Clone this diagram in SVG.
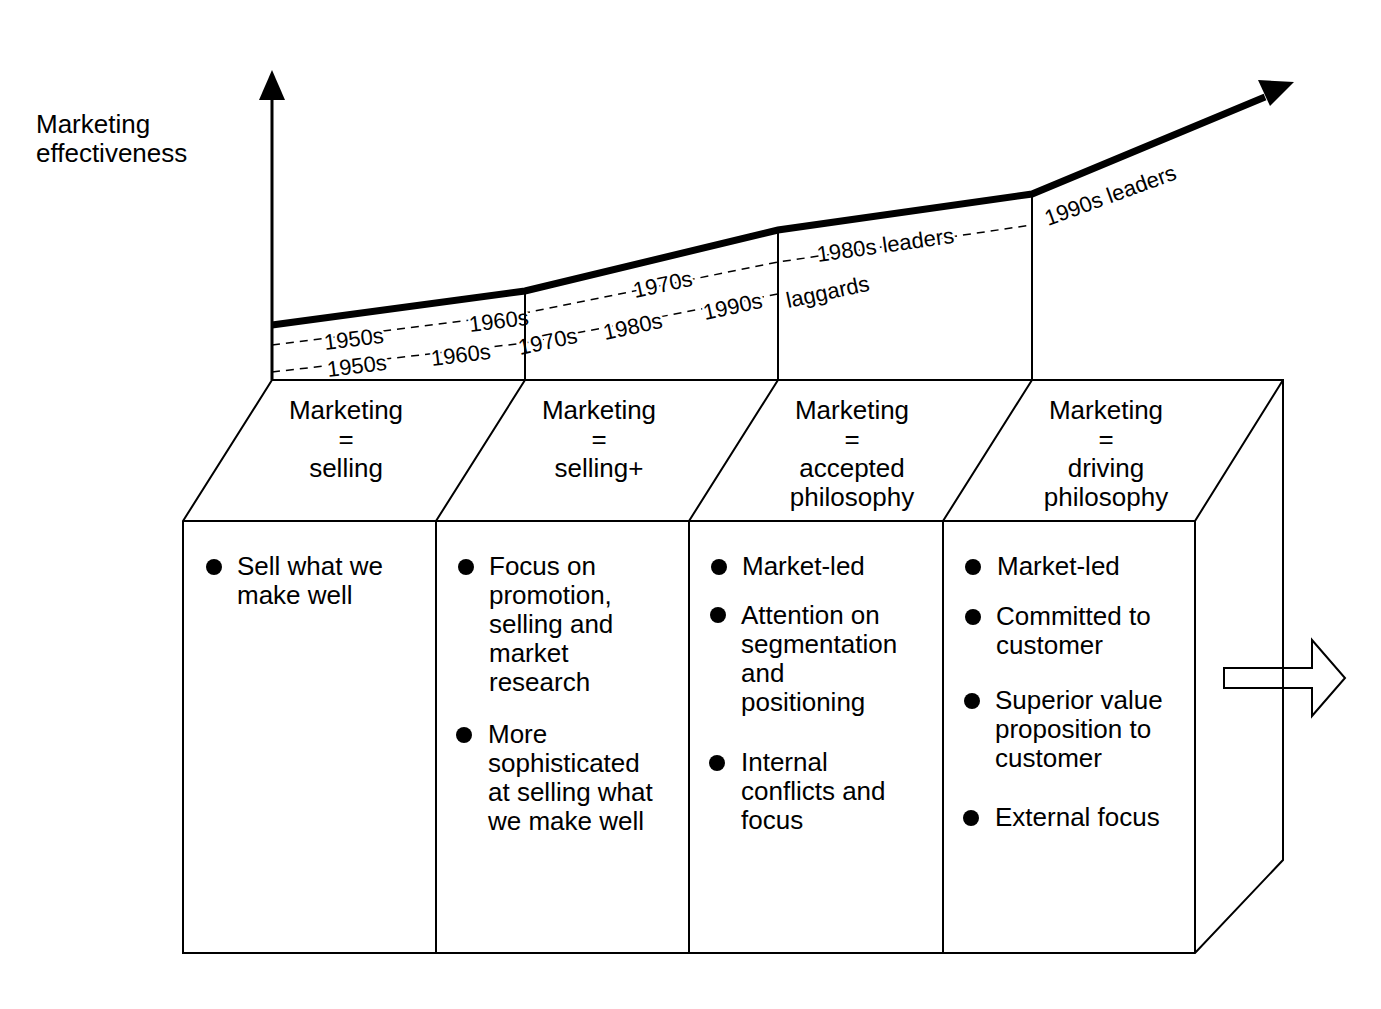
<svg xmlns="http://www.w3.org/2000/svg" width="1381" height="1009" viewBox="0 0 1381 1009">
<style>
text{font-family:"Liberation Sans",Arial,sans-serif;fill:#000}
.t{font-size:26px;text-anchor:middle}
.b{font-size:26px}
.s{font-size:22px;stroke:#fff;stroke-width:5px;paint-order:stroke;stroke-linejoin:round}
.ln{stroke:#000;stroke-width:2;fill:none}
.d{stroke:#000;stroke-width:1.5;fill:none;stroke-dasharray:8 6}
</style>
<rect width="1381" height="1009" fill="#fff"/>
<g id="axis">
<line x1="272" y1="380" x2="272" y2="100" style="stroke:#000;stroke-width:3"/>
<path d="M259,100L272,70L285,100z"/>
<text class="b" x="36" y="133">Marketing</text>
<text class="b" x="36" y="162">effectiveness</text>
</g>
<g id="connectors">
<polyline points="272,325 525,291 778,230 1032,194 1265,97" style="stroke:#000;stroke-width:7;fill:none"/>
<path d="M1258,80L1294,82L1270,106z"/>
<polyline points="272,345 525,313 778,262 1032,225" class="d"/>
<polyline points="272,372 525,343 778,294" class="d"/>
</g>
<g id="labels">
<text class="s" transform="translate(325,350) rotate(-7)">1950s</text>
<text class="s" transform="translate(470,332) rotate(-7)">1960s</text>
<text class="s" transform="translate(635,298) rotate(-12)">1970s</text>
<text class="s" transform="translate(818,262) rotate(-8)">1980s leaders</text>
<text class="s" transform="translate(1048,226) rotate(-20)">1990s leaders</text>
<text class="s" transform="translate(328,377) rotate(-7)">1950s</text>
<text class="s" transform="translate(432,366) rotate(-7)">1960s</text>
<text class="s" transform="translate(520,355) rotate(-12)">1970s</text>
<text class="s" transform="translate(605,340) rotate(-12)">1980s</text>
<text class="s" transform="translate(705,320) rotate(-12)">1990s</text>
<text class="s" transform="translate(788,308) rotate(-12)">laggards</text>
</g>
<g id="box">
<path d="M183,521L272,380L1283,380L1283,860L1195,953L183,953z" class="ln"/>
<path d="M183,521L1195,521L1283,380M1195,521L1195,953" class="ln"/>
<path d="M436,521L525,380L525,291M689,521L778,380L778,230M943,521L1032,380L1032,194M436,521V953M689,521V953M943,521V953" class="ln"/>
</g>
<g id="col1">
<text class="t" x="346" y="419">Marketing</text><text class="t" x="346" y="448">=</text><text class="t" x="346" y="477">selling</text>
<circle cx="214" cy="567" r="8"/><text class="b" x="237" y="575">Sell what we</text><text class="b" x="237" y="604">make well</text>
</g>
<g id="col2">
<text class="t" x="599" y="419">Marketing</text><text class="t" x="599" y="448">=</text><text class="t" x="599" y="477">selling+</text>
<circle cx="466" cy="567" r="8"/>
<text class="b" x="489" y="575">Focus on</text><text class="b" x="489" y="604">promotion,</text><text class="b" x="489" y="633">selling and</text><text class="b" x="489" y="662">market</text><text class="b" x="489" y="691">research</text>
<circle cx="464" cy="735" r="8"/>
<text class="b" x="488" y="743">More</text><text class="b" x="488" y="772">sophisticated</text><text class="b" x="488" y="801">at selling what</text><text class="b" x="488" y="830">we make well</text>
</g>
<g id="col3">
<text class="t" x="852" y="419">Marketing</text><text class="t" x="852" y="448">=</text><text class="t" x="852" y="477">accepted</text><text class="t" x="852" y="506">philosophy</text>
<circle cx="719" cy="567" r="8"/><text class="b" x="742" y="575">Market-led</text>
<circle cx="718" cy="615" r="8"/><text class="b" x="741" y="624">Attention on</text><text class="b" x="741" y="653">segmentation</text><text class="b" x="741" y="682">and</text><text class="b" x="741" y="711">positioning</text>
<circle cx="717" cy="763" r="8"/><text class="b" x="741" y="771">Internal</text><text class="b" x="741" y="800">conflicts and</text><text class="b" x="741" y="829">focus</text>
</g>
<g id="col4">
<text class="t" x="1106" y="419">Marketing</text><text class="t" x="1106" y="448">=</text><text class="t" x="1106" y="477">driving</text><text class="t" x="1106" y="506">philosophy</text>
<circle cx="973" cy="567" r="8"/><text class="b" x="997" y="575">Market-led</text>
<circle cx="973" cy="617" r="8"/><text class="b" x="996" y="625">Committed to</text><text class="b" x="996" y="654">customer</text>
<circle cx="972" cy="701" r="8"/><text class="b" x="995" y="709">Superior value</text><text class="b" x="995" y="738">proposition to</text><text class="b" x="995" y="767">customer</text>
<circle cx="971" cy="818" r="8"/><text class="b" x="995" y="826">External focus</text>
</g>
<g id="arrow">
<path d="M1224,668H1312V640L1345,678L1312,716V688H1224z" fill="#fff" class="ln"/>
</g>
</svg>
